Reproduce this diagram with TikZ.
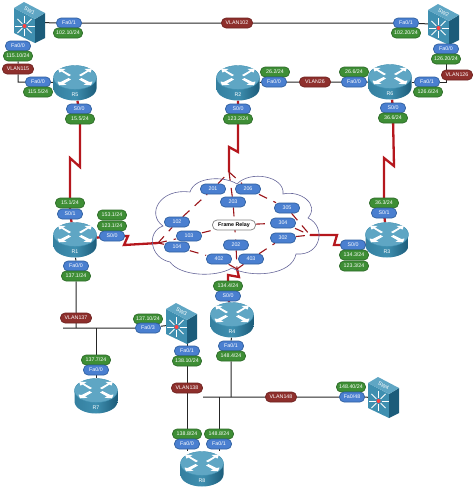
\documentclass[tikz,border=0pt]{standalone}
\usepackage{fontspec}
\setmainfont{Liberation Sans}
\usetikzlibrary{backgrounds,calc}
\definecolor{pblue}{HTML}{4A7FD0}
\definecolor{pblueb}{HTML}{2F5F9E}
\definecolor{pgreen}{HTML}{3E8E35}
\definecolor{pgreenb}{HTML}{2C6A28}
\definecolor{pred}{HTML}{8E2F2C}
\definecolor{predb}{HTML}{6E2220}
\definecolor{rtop}{HTML}{5FA6C4}
\definecolor{rlight}{HTML}{3F8FB0}
\definecolor{rdark}{HTML}{1C5C7A}
\definecolor{serial}{HTML}{B5171D}
\tikzset{
  x=1pt,y=-1pt,
  pill/.style={rounded corners=4.6pt,minimum width=25pt,minimum height=10pt,inner sep=0pt,
    font=\fontsize{5.3}{5.3}\selectfont,text=white,line width=.7pt},
  ifp/.style={pill,fill=pblue,draw=pblueb},
  ipa/.style={pill,fill=pgreen,draw=pgreenb,minimum width=29pt},
  vln/.style={pill,fill=pred,draw=predb,minimum width=31pt},
  fr/.style={pill,fill=white,draw=gray,text=black,minimum width=43pt,font=\fontsize{5.3}{5.3}\selectfont\bfseries},
  lan/.style={line width=1pt,draw=black!85},
  ser/.style={line width=2.3pt,draw=serial},
  pvc/.style={line width=1.1pt,draw=serial!85!black,dash pattern=on 9pt off 7pt},
  devname/.style={font=\fontsize{5.3}{5.3}\selectfont,text=white,inner sep=0pt},
  anchorbox/.style={inner sep=0pt,minimum width=43pt,minimum height=35pt},
}
% \rtr{name}{cx}{cy}{label}
\newcommand{\rtr}[4]{%
  \begin{scope}[shift={(#2,#3)}]
    \path[left color=rlight!70!rdark,right color=rdark,middle color=rlight]
      (-21.5,-5.5) -- (-21.5,5.5) arc[start angle=180,end angle=360,x radius=21.5pt,y radius=12pt] -- (21.5,-5.5) -- cycle;
    \path[fill=rtop,draw=rlight,line width=.4pt] (0,-5.5) ellipse[x radius=21.5pt,y radius=12pt];
    \foreach \a in {1,-1}{
      \path[fill=white] (\a*4,-8) -- (\a*12,-12.5) -- (\a*9.5,-14) -- (\a*17,-14.5) -- (\a*15.5,-10.5) -- (\a*13.5,-11.5) -- (\a*6,-6.8) -- cycle;
      \path[fill=white] (\a*4,-3.5) -- (\a*11,0.5) -- (\a*8.5,1.8) -- (\a*16,2.3) -- (\a*17.5,-1.5) -- (\a*14.5,-1) -- (\a*6.5,-5) -- cycle;
    }
  \end{scope}
  \node[anchorbox] (#1) at (#2,#3) {};
  \node[devname] at (#2,#3+12) {#4};
}
% \swt{name}{x of upper-left}{y of upper-left}{label}
\newcommand{\swt}[4]{%
  \begin{scope}[shift={(#2,#3)}]
    \path[fill=rlight] (0,0) -- (21,11) -- (21,35) -- (0,25) -- cycle;
    \path[fill=rdark] (21,11) -- (31,5) -- (31,30) -- (21,35) -- cycle;
    \path[fill=rtop] (0,0) -- (10,-6) -- (31,5) -- (21,11) -- cycle;
    \foreach \a in {0,45,...,315}{
      \draw[white,line width=1pt] ($(10.5,18)+(\a:3)$) -- ($(10.5,18)+(\a:10)$);
    }
    \path[fill=red!75!white] (10.5,18) circle[radius=2pt];
    \node[devname,rotate=-28] at (15.5,2.5) {#4};
  \end{scope}
  \node[inner sep=0pt,minimum width=31pt,minimum height=41pt] (#1) at ($(#2,#3)+(15.5,14.5)$) {};
}
\newcommand{\pil}[5]{\node[#1] (#2) at (#3,#4) {#5};}
\begin{document}
\begin{tikzpicture}
\useasboundingbox (0,0) rectangle (474,490);
% cloud
\draw[gray!80!blue,line width=.6pt,fill=none] (170,262)
  .. controls (150,258) and (146,232) .. (163,226)
  .. controls (146,214) and (160,188) .. (190,192)
  .. controls (195,176) and (225,176) .. (237,184)
  .. controls (250,170) and (285,176) .. (283,194)
  .. controls (300,190) and (320,204) .. (308,218)
  .. controls (326,226) and (322,256) .. (296,254)
  .. controls (292,276) and (250,278) .. (232,268)
  .. controls (215,278) and (180,276) .. (170,262) -- cycle;
% devices
\swt{sw1}{14}{8}{SW1}
\swt{sw2}{428}{10}{SW2}
\swt{sw3}{166}{309}{SW3}
\swt{sw4}{368}{383}{SW4}
\rtr{r5}{75}{83}{R5}
\rtr{r2}{238}{83}{R2}
\rtr{r6}{390}{82}{R6}
\rtr{r1}{75}{240}{R1}
\rtr{r3}{387}{240}{R3}
\rtr{r4}{232}{320}{R4}
\rtr{r7}{96}{396}{R7}
\rtr{r8}{202}{469}{R8}
% SW1 / R5
\pil{ifp}{a1}{69}{23}{Fa0/1}
\pil{ipa}{a2}{68}{33}{102.10/24}
\pil{ifp}{a3}{18}{46}{Fa0/0}
\pil{ipa}{a4}{18}{56}{115.10/24}
\pil{vln}{v115}{18}{69}{VLAN115}
\pil{ifp}{a5}{38}{82}{Fa0/0}
\pil{ipa}{a6}{38}{92}{115.5/24}
\pil{ifp}{a7}{79}{109}{S0/0}
\pil{ipa}{a8}{80}{119}{15.5/24}
% VLAN102, SW2
\pil{vln}{v102}{237}{23}{VLAN102}
\pil{ifp}{b1}{406}{23}{Fa0/1}
\pil{ipa}{b2}{406}{33}{102.20/24}
\pil{ifp}{b3}{446}{49}{Fa0/0}
\pil{ipa}{b4}{446}{59}{126.20/24}
\pil{vln}{v126}{457}{75}{VLAN126}
% R2
\pil{ipa}{c1}{275}{72}{26.2/24}
\pil{ifp}{c2}{274}{82}{Fa0/0}
\pil{vln}{v26}{315}{82}{VLAN26}
\pil{ifp}{c3}{238}{109}{S0/0}
\pil{ipa}{c4}{238}{119}{123.2/24}
% R6
\pil{ipa}{d1}{354}{72}{26.6/24}
\pil{ifp}{d2}{354}{82}{Fa0/0}
\pil{ifp}{d3}{427}{82}{Fa0/1}
\pil{ipa}{d4}{428}{92}{126.6/24}
\pil{ifp}{d5}{393}{108}{S0/0}
\pil{ipa}{d6}{393}{118}{36.6/24}
% R1
\pil{ipa}{e1}{70}{203}{15.1/24}
\pil{ifp}{e2}{70}{214}{S0/1}
\pil{ipa}{e3}{112}{215}{153.1/24}
\pil{ipa}{e4}{112}{226}{123.1/24}
\pil{ifp}{e5}{112}{236}{S0/0}
\pil{ifp}{e6}{76}{266}{Fa0/0}
\pil{ipa}{e7}{76}{276}{137.1/24}
% R3
\pil{ipa}{f1}{384}{203}{36.3/24}
\pil{ifp}{f2}{384}{213}{S0/1}
\pil{ifp}{f3}{353}{245}{S0/0}
\pil{ipa}{f4}{354}{255}{134.3/24}
\pil{ipa}{f5}{354}{266}{123.3/24}
% R4
\pil{ipa}{g1}{228}{286}{134.4/24}
\pil{ifp}{g2}{228}{296}{S0/0}
\pil{ifp}{g3}{231}{346}{Fa0/1}
\pil{ipa}{g4}{231}{356}{148.4/24}
% VLAN137, R7, SW3
\pil{vln}{v137}{76}{318}{VLAN137}
\pil{ipa}{h1}{148}{319}{137.10/24}
\pil{ifp}{h2}{148}{328}{Fa0/3}
\pil{ipa}{h3}{96}{360}{137.7/24}
\pil{ifp}{h4}{96}{370}{Fa0/0}
\pil{ifp}{h5}{187}{351}{Fa0/1}
\pil{ipa}{h6}{187}{361}{138.10/24}
\pil{vln}{v138}{187}{388}{VLAN138}
% R8
\pil{ipa}{i1}{187}{434}{138.8/24}
\pil{ifp}{i2}{187}{444}{Fa0/0}
\pil{ipa}{i3}{219}{434}{148.8/24}
\pil{ifp}{i4}{219}{444}{Fa0/1}
% VLAN148, SW4
\pil{vln}{v148}{281}{397}{VLAN148}
\pil{ipa}{j1}{351}{387}{148.40/24}
\pil{ifp}{j2}{352}{397}{Fa0/48}
% Frame Relay pills
\pil{ifp}{k201}{213}{189}{201}
\pil{ifp}{k206}{248}{189}{206}
\pil{ifp}{k203}{233}{202}{203}
\pil{ifp}{k305}{287}{208}{305}
\pil{ifp}{k304}{283}{223}{304}
\pil{ifp}{k302}{283}{238}{302}
\pil{ifp}{k102}{177}{222}{102}
\pil{ifp}{k103}{189}{236}{103}
\pil{ifp}{k104}{177}{247}{104}
\pil{ifp}{k202}{236}{245}{202}
\pil{ifp}{k402}{219}{259}{402}
\pil{ifp}{k403}{251}{259}{403}
\pil{fr}{frn}{234}{225}{Frame Relay}
% free coordinates
\coordinate (jl) at (158,243);
\coordinate (jt) at (229,172);
\coordinate (jr) at (310,235);
\coordinate (jb) at (237,269);
\coordinate (b1w) at (63,328);
\coordinate (b2w) at (203,397);
\begin{scope}[on background layer]
  % LAN
  \draw[lan] (sw1) -- (a1) -- (v102) -- (b1) -- (sw2);
  \draw[lan] (a3) -- (a4) -- (v115) |- (a5) -- (r5);
  \draw[lan] (sw1.south -| a3) -- (a3);
  \draw[lan] (r2) -- (c2) -- (v26) -- (d2) -- (r6);
  \draw[lan] (r6) -- (d3) -| (b4);
  \draw[lan] (sw2.south -| b3) -- (b3) -- (b4);
  \draw[lan] (r1) -- (e6) -- (e7) -- (e7 |- b1w);
  \draw[lan] (b1w) -- (h2) -- (sw3);
  \draw[lan] (h3 |- b1w) -- (h3) -- (h4) -- (r7);
  \draw[lan] (sw3.south -| h5) -- (h5) -- (h6) -- (v138) -- (i1) -- (i2) -- (i2 |- r8.north);
  \draw[lan] (r4) -- (g3) -- (g4) -- (g4 |- b2w);
  \draw[lan] (b2w) -- (v148) -- (j2) -- (sw4);
  \draw[lan] (i3 |- b2w) -- (i3) -- (i4) -- (i4 |- r8.north);
  % PVC
  \draw[pvc] (jl) -- (k102) -- (k201) -- (jt);
  \draw[pvc] (jl) -- (k103) -- (frn) -- (k304) -- (jr);
  \draw[pvc] (jl) -- (k104) -- (k402) -- (jb);
  \draw[pvc] (jt) -- (k203) -- (k202) -- (jb);
  \draw[pvc] (jt) -- (k206) -- (k305) -- (jr);
  \draw[pvc] (jb) -- (k403) -- (k302) -- (jr);
  % Serial
  \draw[ser] (r5) -- (a8.center) -- (80,167) -- (70,158) -- (e1.center) -- (e2.center) -- (r1);
  \draw[ser] (r2) -- (c3.center) -- (c4.center) -- (238,152) -- (229,147) -- (jt);
  \draw[ser] (r6) -- (d5.center) -- (d6.center) -- (394,166) -- (384,158) -- (f1.center) -- (f2.center) -- (r3);
  \draw[ser] (r1) -- (e5.center) -- (128,236) -- (124,245) -- (jl);
  \draw[ser] (r3) -- (f3.center) -- (334,245) -- (337,235) -- (jr);
  \draw[ser] (r4) -- (g2.center) -- (g1.center) -- (228,275) -- (239,277) -- (jb);
\end{scope}
\end{tikzpicture}
\end{document}
